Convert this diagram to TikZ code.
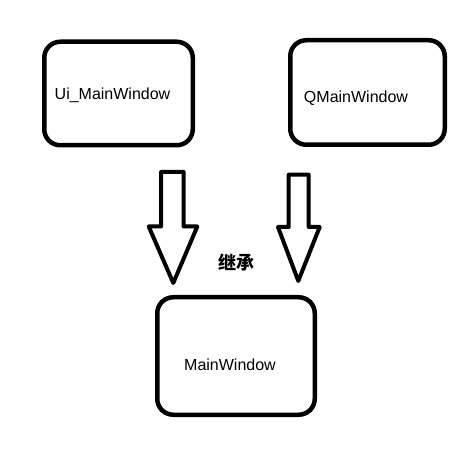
\documentclass[tikz,border=0pt]{standalone}
\usepackage{fontspec}
\setmainfont{Liberation Sans}
\newfontfamily\cjk{Noto Sans CJK SC}
\usetikzlibrary{positioning}

\begin{document}
\begin{tikzpicture}[
  x=1pt, y=-1pt,
  winbox/.style={draw, line width=4.5pt, rounded corners=16pt, inner sep=0pt},
  lbl/.style={font=\fontsize{16}{18}\selectfont, inner sep=0pt},
  blockarrow/.style={draw, line width=4pt, line join=round, fill=white}
]
\useasboundingbox (0,0) rectangle (467,452);

\node[winbox, minimum width=148.5pt, minimum height=103.5pt] (ui) at (118.5,93.5) {};
\node[winbox, minimum width=154.5pt, minimum height=104.5pt] (qmain) at (367.5,92.5) {};
\node[winbox, minimum width=157.5pt, minimum height=117.5pt] (main) at (236,356) {};

\node[lbl] (uiText) at (112.5,95) {Ui\_MainWindow};
\node[lbl] (qmainText) at (356,98) {QMainWindow};
\node[lbl] (mainText) at (230,365) {MainWindow};

% block arrows
\draw[blockarrow] (161,172) -- (161,226.5) -- (148.7,226.5) -- (173.3,283)
  -- (197.3,226.5) -- (183.7,226.5) -- (183.7,172) -- cycle;
\draw[blockarrow] (288.7,174.7) -- (288.7,227) -- (278,227) -- (298.3,281)
  -- (319.7,227) -- (308.7,227) -- (308.7,174.7) -- cycle;

\node[font=\cjk\bfseries\fontsize{18}{20}\selectfont, inner sep=0pt] (inherit) at (236,263) {继承};
\end{tikzpicture}
\end{document}
